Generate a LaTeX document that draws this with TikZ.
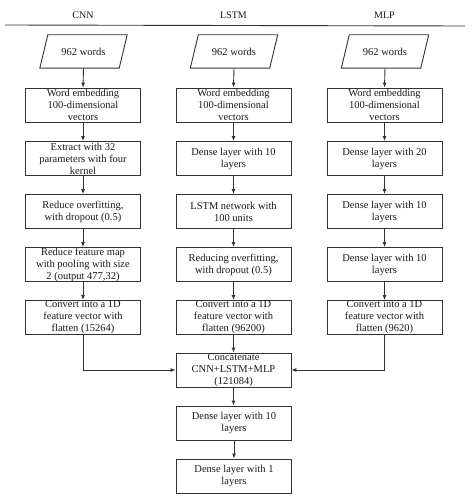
\documentclass[tikz,border=0pt]{standalone}
\usepackage{fontspec}
\setmainfont{Liberation Serif}
\usetikzlibrary{arrows.meta}
\definecolor{linec}{RGB}{50,50,50}
\newcommand\mybox[4]{\node[box] (#1) at (#2,#3) {};\node[txt] at (#1.center) {#4};}
\newcommand\mypara[3]{\node[para] (#1) at (#2,51.5) {#3};
  \draw[edge] ([xshift=4pt]#1.north west) -- ([xshift=4pt]#1.north east) -- ([xshift=-4pt]#1.south east) -- ([xshift=-4pt]#1.south west) -- cycle;}
\begin{document}
\begin{tikzpicture}[x=1pt,y=-1pt,
  edge/.style={draw=linec, line width=0.9pt},
  box/.style={edge, minimum width=115pt, minimum height=34pt, inner sep=0pt},
  txt/.style={font=\fontsize{10.5}{12}\selectfont, align=center, inner sep=0pt, text=black!90},
  para/.style={minimum width=79pt, minimum height=33pt, inner sep=0pt, font=\fontsize{10.5}{12}\selectfont, text=black!90},
  head/.style={font=\fontsize{10}{12}\selectfont, inner sep=0pt, text=black!90},
  arr/.style={edge, -{Latex[length=5pt,width=4pt]}}]
\useasboundingbox (0,0) rectangle (474,500);
% headings
\node[head] (hc) at (83,15) {CNN};
\node[head] (hl) at (233.5,15) {LSTM};
\node[head] (hm) at (384.5,15) {MLP};
\coordinate (rl) at (5,25);
\coordinate (rr) at (465,26);
\draw[edge] (rl) -- (rr);
% inputs
\mypara{pc}{83.5}{962 words}
\mypara{pl}{234}{962 words}
\mypara{pm}{385}{962 words}
% CNN column
\mybox{c1}{83}{105}{Word embedding\\100-dimensional\\vectors}
\mybox{c2}{83}{158.5}{Extract with 32\\parameters with four\\kernel}
\mybox{c3}{83}{211.5}{Reduce overfitting,\\with dropout (0.5)}
\mybox{c4}{83}{264.5}{Reduce feature map\\with pooling with size\\2 (output 477,32)}
\mybox{c5}{83}{317.5}{Convert into a 1D\\feature vector with\\flatten (15264)}
% LSTM column
\mybox{l1}{233.5}{105}{Word embedding\\100-dimensional\\vectors}
\mybox{l2}{233.5}{158.5}{Dense layer with 10\\layers}
\mybox{l3}{233.5}{211.5}{LSTM network with\\100 units}
\mybox{l4}{233.5}{264.5}{Reducing overfitting,\\with dropout (0.5)}
\mybox{l5}{233.5}{317.5}{Convert into a 1D\\feature vector with\\flatten (96200)}
% MLP column
\mybox{m1}{384.5}{105}{Word embedding\\100-dimensional\\vectors}
\mybox{m2}{384.5}{158.5}{Dense layer with 20\\layers}
\mybox{m3}{384.5}{211.5}{Dense layer with 10\\layers}
\mybox{m4}{384.5}{264.5}{Dense layer with 10\\layers}
\mybox{m5}{384.5}{317.5}{Convert into a 1D\\feature vector with\\flatten (9620)}
% merge
\mybox{cat}{233.5}{370}{Concatenate\\CNN+LSTM+MLP\\(121084)}
\mybox{d1}{234}{423}{Dense layer with 10\\layers}
\mybox{d2}{234}{476}{Dense layer with 1\\layers}
% arrows
\foreach \c in {c,l,m}{
  \draw[arr] (p\c.south) -- (\c1.north);
  \draw[arr] (\c1.south) -- (\c2.north);
  \draw[arr] (\c2.south) -- (\c3.north);
  \draw[arr] (\c3.south) -- (\c4.north);
  \draw[arr] (\c4.south) -- (\c5.north);
}
\draw[arr] (l5.south) -- (cat.north);
\draw[arr] (c5.south) |- (cat.west);
\draw[arr] (m5.south) |- (cat.east);
\draw[arr] (cat.south) -- (cat.south |- d1.north);
\draw[arr] (d1.south) -- (d2.north);
\end{tikzpicture}
\end{document}
